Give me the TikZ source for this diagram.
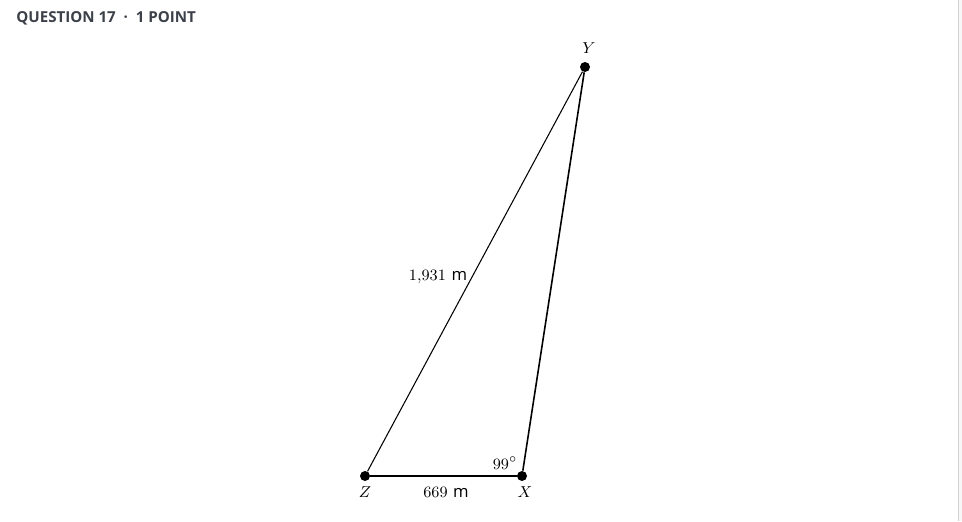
\documentclass[tikz,border=0pt]{standalone}
\usepackage{fontspec}
\setsansfont{Open Sans}
\usepackage{tikz}
\usetikzlibrary{positioning,calc}
\definecolor{headgray}{RGB}{60,64,72}
\tikzset{vertex/.style={circle, fill, inner sep=0pt, minimum size=0.2cm}}
\tikzset{vlab/.style={inner sep=1pt, font=\fontsize{9.5}{11}\selectfont}}
\tikzset{side/.style={draw, line width=0.6pt}}
\tikzset{sidelab/.style={inner sep=1pt, font=\fontsize{9.5}{11}\selectfont}}

\begin{document}
\begin{tikzpicture}[x=0.02cm, y=0.02cm]
			\useasboundingbox (0,0) rectangle (962,521);
			\fill[gray!6] (958,0) rectangle (962,521);
			\draw[gray!35, line width=0.4pt] (958,0) -- (958,521);

			\node[anchor=west, inner sep=0pt, text=headgray, font=\sffamily\bfseries\fontsize{8.6}{10}\selectfont] (head) at (16,503) {QUESTION 17 \ · \ 1 POINT};

			\node[vertex] (Z) at (365,45){};
			\node[vertex] (X) at (522,45){};
			\node[vertex] (Y) at (585,454){};

			\node[vlab] (labZ) at (365,29){$Z$};
			\node[vlab] (labX) at (525,29){$X$};
			\node[vlab] (labY) at (589,473){$Y$};

%			sides
			\draw[side] (Z) -- (Y);
			\draw[side, line width=0.9pt] (X) -- (Y);
			\draw[side, line width=0.9pt] (Z) -- (X);

			\node[sidelab] (zx) at (446,29){$669$ \textsf{m}};
			\node[sidelab] (zy) at (438,244){$1{,}931$ \textsf{m}};
			\node[sidelab] (ang) at (505,58){$99^\circ$};
		\end{tikzpicture}
\end{document}
